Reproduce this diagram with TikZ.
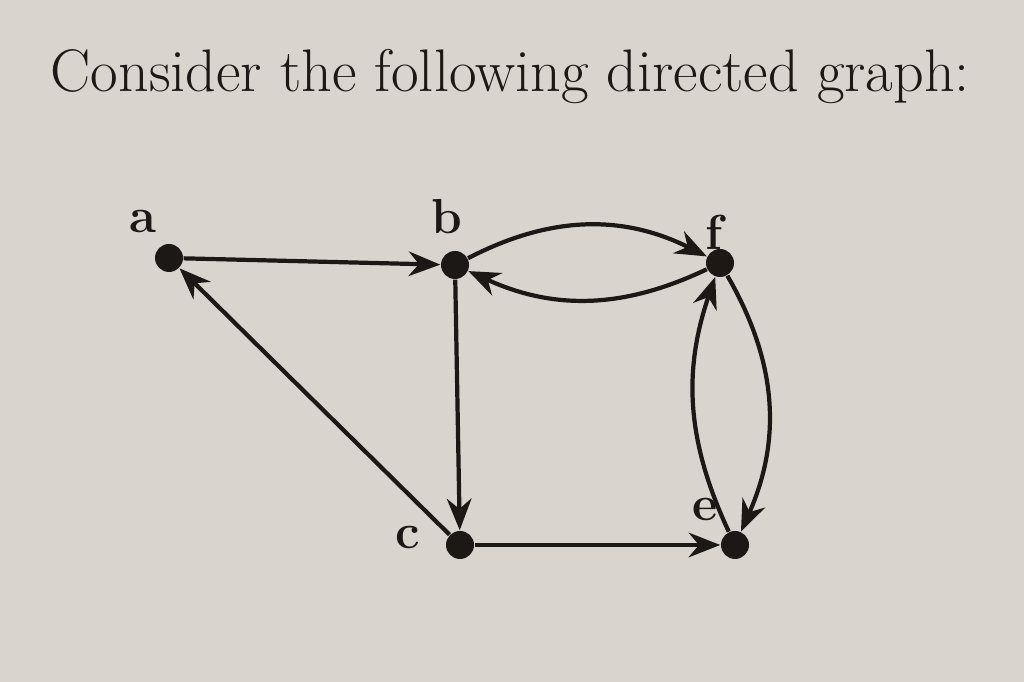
\documentclass[tikz,border=0pt]{standalone}
\usetikzlibrary{arrows.meta}
\definecolor{paper}{RGB}{218,212,206}
\definecolor{ink}{RGB}{28,24,22}
\begin{document}
\begin{tikzpicture}[x=1cm,y=1cm,
  vtx/.style={circle,fill=ink,inner sep=0pt,minimum size=0.28cm},
  lbl/.style={text=ink,font=\fontsize{14}{17}\selectfont\bfseries},
  edge/.style={draw=ink,line width=1.2pt,-{Stealth[length=9pt,width=7pt]}}]
\fill[paper] (0,0) rectangle (10.24,6.82);
\useasboundingbox (0,0) rectangle (10.24,6.82);
\node[text=ink,anchor=base west,inner sep=0pt,font=\fontsize{17.1}{21}\selectfont] (title) at (0.50,5.90) {Consider the following directed graph:};
\node[vtx] (a) at (1.69,4.24) {};
\node[vtx] (b) at (4.55,4.17) {};
\node[vtx] (f) at (7.20,4.19) {};
\node[vtx] (c) at (4.60,1.37) {};
\node[vtx] (e) at (7.35,1.37) {};
\node[lbl] (la) at (1.43,4.60) {a};
\node[lbl] (lb) at (4.47,4.65) {b};
\node[lbl] (lf) at (7.14,4.50) {f};
\node[lbl] (lc) at (4.08,1.44) {c};
\node[lbl] (le) at (7.05,1.72) {e};
\draw[edge] (a) -- (b);
\draw[edge] (c) -- (a);
\draw[edge] (b) -- (c);
\draw[edge] (c) -- (e);
\draw[edge] (b) to[bend left=27] (f);
\draw[edge] (f) to[bend left=25] (b);
\draw[edge] (f) to[bend left=27] (e);
\draw[edge] (e) to[bend left=22] (f);
\end{tikzpicture}
\end{document}
